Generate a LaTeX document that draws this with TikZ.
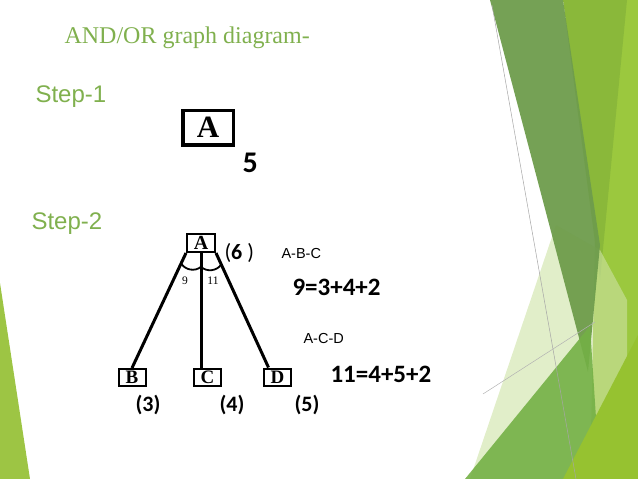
\documentclass[tikz,border=0pt]{standalone}
\usepackage{fontspec}
\setmainfont{Liberation Serif}
\setsansfont{Liberation Sans}
\newfontfamily\calibri{Carlito}
\usetikzlibrary{calc}
\definecolor{titlegreen}{RGB}{128,176,78}
\definecolor{leafgreen}{RGB}{157,197,68}
\definecolor{darkfacet}{RGB}{110,156,76}
\definecolor{midlime}{RGB}{138,184,58}
\definecolor{brightlime}{RGB}{155,200,62}
\definecolor{palefacet}{RGB}{205,226,165}
\definecolor{grassfacet}{RGB}{116,176,70}
\definecolor{limefacet}{RGB}{150,194,48}
\begin{document}
\begin{tikzpicture}[x=1pt,y=-1pt,
	statebox/.style={draw=black,line width=2pt,inner sep=0pt,minimum width=27pt,minimum height=17pt,font=\bfseries\fontsize{19}{19}\selectfont},
	cost/.style={anchor=base west,font=\calibri\bfseries\fontsize{22}{22}\selectfont},
	rule/.style={anchor=base west,font=\calibri\bfseries\fontsize{25}{25}\selectfont},
	path/.style={anchor=base west,font=\sffamily\fontsize{14.5}{14.5}\selectfont},
	steplabel/.style={anchor=base west,text=titlegreen,font=\sffamily\fontsize{24}{24}\selectfont},
	edge/.style={line width=3pt},
	andarc/.style={line width=1.8pt}]
	\useasboundingbox (0,0) rectangle (638,479);
	
	% facets of the slide
	\fill[brightlime] (600,0) -- (638,0) -- (638,479) -- (590,479) -- cycle;
	\fill[midlime] (563,0) -- (627,0) -- (600,280) -- cycle;
	\fill[palefacet,fill opacity=0.6] (470,479) -- (556,225) -- (600,250) -- (627,300) -- (627,479) -- cycle;
	\fill[darkfacet,fill opacity=0.95] (490,0) -- (563,0) -- (600,245) -- (588,372) -- cycle;
	\fill[grassfacet,fill opacity=0.9] (465,479) -- (590,326) -- (600,479) -- cycle;
	\fill[limefacet] (563,479) -- (638,335) -- (638,479) -- cycle;
	\draw[gray!70,line width=0.5pt] (492,5) -- (576,479);
	\draw[gray!60,line width=0.5pt] (483,394) -- (595,322);
	\fill[leafgreen] (0,283) -- (0,479) -- (30,479) -- cycle;
	
	\node[anchor=base west,text=titlegreen,font=\fontsize{24}{24}\selectfont] (title) at (61,43) {AND/OR graph diagram-};
	\node[steplabel] (step1) at (32,102) {Step-1};
	\node[steplabel] (step2) at (28,229) {Step-2};
	
	% step 1
	\node[statebox,line width=3.5pt,minimum width=50.5pt,minimum height=34.5pt,font=\bfseries\fontsize{31}{31}\selectfont] (A1) at (208,127.5) {A};
	\node[anchor=base west,font=\calibri\bfseries\fontsize{30}{30}\selectfont] (h1) at (239,172) {5};
	
	% step 2
	\node[statebox,minimum width=28pt,minimum height=18pt,font=\bfseries\fontsize{20}{20}\selectfont] (A) at (201,243) {A};
	\node[statebox] (B) at (132,377.5) {B};
	\node[statebox] (C) at (207.5,377.5) {C};
	\node[statebox] (D) at (277.5,377) {D};
	
	\draw[edge] (A.south west) -- (B.north);
	\draw[edge] (A.south) -- (A.south |- C.north);
	\draw[edge] (A.south east) -- ([xshift=-9pt]D.north);
	
	\coordinate (l) at ($(A.south west)!0.09!(B.north)$);
	\coordinate (m) at ($(A.south)!0.12!(A.south |- C.north)$);
	\coordinate (r) at ($(A.south east)!0.1!([xshift=-9pt]D.north)$);
	\draw[andarc] (l) to[bend right=50] (m) to[bend right=50] (r);
	
	\node[font=\fontsize{11.5}{11.5}\selectfont] (w9) at (185,281) {9};
	\node[font=\fontsize{11.5}{11.5}\selectfont] (w11) at (213,281) {11};
	
	\node[cost] (hA) at (221,259) {{\mdseries(}6{\mdseries\ )}};
	\node[cost] (hB) at (132,411) {(3)};
	\node[cost] (hC) at (216,411) {(4)};
	\node[cost] (hD) at (291,411) {(5)};
	
	\node[path] (abc) at (278,258) {A-B-C};
	\node[rule] (r1) at (289,295) {9=3+4+2};
	\node[path] (acd) at (300,343) {A-C-D};
	\node[rule] (r2) at (327,382) {11=4+5+2};
\end{tikzpicture}
\end{document}
